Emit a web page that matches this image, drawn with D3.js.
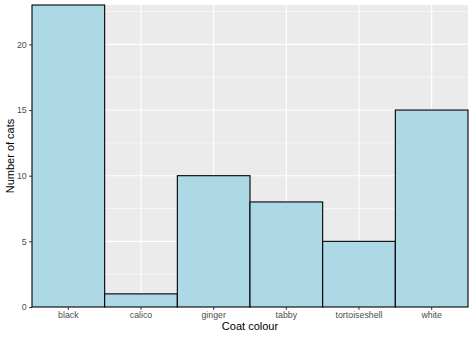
<!DOCTYPE html>
<html><head><meta charset="utf-8">
<script src="https://cdn.jsdelivr.net/npm/d3@7"></script>
<style>body{margin:0;background:#fff}svg{display:block}text{font-family:"Liberation Sans",Arial,sans-serif}</style>
</head><body>
<script>
const categories = ["black","calico","ginger","tabby","tortoiseshell","white"];
const counts = [23,1,10,8,5,15];
const yTicks = [0,5,10,15,20];
const yMinor = [2.5,7.5,12.5,17.5,22.5];

const W=474,H=338;
const m={l:32,r:6,t:5,b:31};
const svg=d3.select("body").append("svg").attr("width",W).attr("height",H);
const x=d3.scaleBand().domain(categories).range([m.l,W-m.r]).padding(0);
const y=d3.scaleLinear().domain([0,23]).range([H-m.b,m.t]);
const g=svg.append("g");
g.append("rect").attr("x",m.l).attr("y",m.t).attr("width",W-m.l-m.r).attr("height",H-m.t-m.b).attr("fill","#EBEBEB");
g.selectAll(".minor").data(yMinor).join("line").attr("x1",m.l).attr("x2",W-m.r).attr("y1",d=>y(d)).attr("y2",d=>y(d)).attr("stroke","#fff").attr("stroke-width",0.55);
g.selectAll(".major").data(yTicks).join("line").attr("x1",m.l).attr("x2",W-m.r).attr("y1",d=>y(d)).attr("y2",d=>y(d)).attr("stroke","#fff").attr("stroke-width",1.1);
g.selectAll(".vmaj").data(categories).join("line").attr("x1",d=>x(d)+x.bandwidth()/2).attr("x2",d=>x(d)+x.bandwidth()/2).attr("y1",m.t).attr("y2",H-m.b).attr("stroke","#fff").attr("stroke-width",1.1);
g.selectAll(".bar").data(categories).join("rect")
 .attr("x",d=>x(d)).attr("width",x.bandwidth())
 .attr("y",(d,i)=>y(counts[i])).attr("height",(d,i)=>y(0)-y(counts[i]))
 .attr("fill","#ADD8E6").attr("stroke","#000").attr("stroke-width",1.1);

const xa=svg.append("g").attr("transform",`translate(0,${H-m.b})`).call(d3.axisBottom(x).tickSize(2.75).tickPadding(2.5));
const ya=svg.append("g").attr("transform",`translate(${m.l},0)`).call(d3.axisLeft(y).tickValues(yTicks).tickSize(2.75).tickPadding(2.5));
[xa,ya].forEach(a=>{a.select(".domain").remove();a.selectAll(".tick line").attr("stroke","#333").attr("stroke-width",1.1);
 a.selectAll("text").attr("fill","#4D4D4D").style("font-size","8.8px").style("font-family","Liberation Sans, Arial, sans-serif");});
svg.append("text").attr("x",m.l+(W-m.l-m.r)/2).attr("y",330).attr("text-anchor","middle").style("font-size","11px").attr("fill","#000").text("Coat colour");
svg.append("text").attr("transform",`translate(14,${m.t+(H-m.t-m.b)/2}) rotate(-90)`).attr("text-anchor","middle").style("font-size","11px").attr("fill","#000").text("Number of cats");
</script>
</body></html>
